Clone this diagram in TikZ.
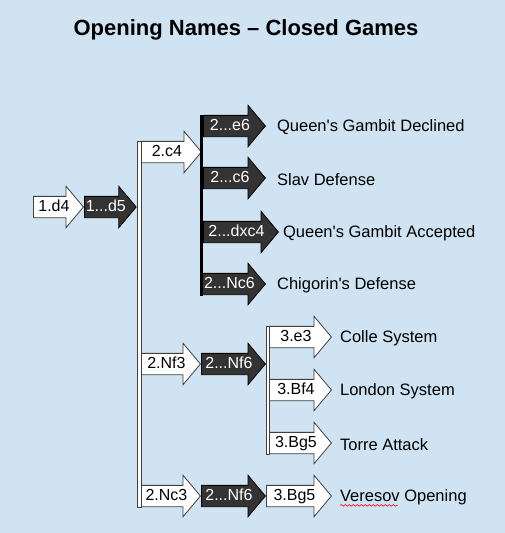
\documentclass[tikz,border=0pt]{standalone}
\usepackage{fontspec}
\setmainfont{Liberation Sans}
\usetikzlibrary{shapes.arrows,positioning}
\usetikzlibrary{decorations.pathmorphing}
\definecolor{background}{RGB}{207,227,242}
\colorlet{penColor}{black!75}
\colorlet{moveFill}{black!80}
\tikzset{
  wmove/.style={single arrow, draw=penColor, fill=white, text=black, line width=0.8pt,
    single arrow head extend=10pt, single arrow tip angle=100, minimum width=40pt,
    text height=11.5pt, text depth=3pt, inner ysep=3pt, inner xsep=1pt, anchor=tail,
    font=\fontsize{16}{17}\selectfont},
  bmove/.style={wmove, draw=black, fill=moveFill, text=white},
  opname/.style={anchor=west, inner sep=0pt, yshift=-1.5pt, font=\fontsize{16.5}{18}\selectfont},
  wbar/.style={draw=penColor, fill=white, line width=0.8pt},
  bbar/.style={draw=black, fill=black, line width=0.8pt}
}

\begin{document}
\begin{tikzpicture}[x=1pt,y=-1pt]
				\fill[background] (0,0) rectangle (505,533);
				\useasboundingbox (0,0) rectangle (505,533);
				\node [font=\bfseries\fontsize{22}{24}\selectfont] (title) at (246,30) {Opening Names -- Closed Games};
				% first moves
				\node [wmove, minimum height=50pt] (d4) at (33,207) {1.d4};
				\node [bmove, minimum height=50pt] (d5) at (84,207) {1...d5};
				% second moves for white
				\node [wmove, minimum height=60pt] (c4) at (141,152) {2.c4};
				\node [wmove, minimum height=59pt] (nf3) at (141,364) {2.Nf3};
				\node [wmove, minimum height=59pt] (nc3) at (141,496) {2.Nc3};
				\draw [wbar] (c4.after tail) rectangle ([xshift=-4pt]nc3.before tail);
				% replies to 2.c4
				\node [bmove, minimum height=62pt] (e6) at (203,126) {2...e6};
				\node [bmove, minimum height=62pt] (c6) at (203,178) {2...c6};
				\node [bmove, minimum height=75pt] (dxc4) at (203,232) {2...dxc4};
				\node [bmove, minimum height=63pt] (nc6) at (202,284) {2...Nc6};
				\draw [bbar] ([xshift=-3pt]e6.after tail) rectangle (nc6.before tail);
				\node [opname, right=11pt of e6.tip] (qgd) {Queen\textquotesingle s Gambit Declined};
				\node [opname, right=11pt of c6.tip] (slav) {Slav Defense};
				\node [opname, right=4pt of dxc4.tip] (qga) {Queen\textquotesingle s Gambit Accepted};
				\node [opname, right=11pt of nc6.tip] (chig) {Chigorin\textquotesingle s Defense};
				% 2.Nf3 Nf6
				\node [bmove, minimum height=64pt] (nf6a) at (201,364) {2...Nf6};
				\node [wmove, minimum height=62pt] (e3) at (269,337) {3.e3};
				\node [wmove, minimum height=62pt] (bf4) at (269,390) {3.Bf4};
				\node [wmove, minimum height=62pt] (bg5a) at (269,443) {3.Bg5};
				\draw [wbar] ([xshift=-3pt]e3.after tail) rectangle (bg5a.before tail);
				\node [opname, right=8pt of e3.tip] (colle) {Colle System};
				\node [opname, right=8pt of bf4.tip] (london) {London System};
				\node [opname, right=8pt of bg5a.tip] (torre) {Torre Attack};
				% 2.Nc3 Nf6
				\node [bmove, minimum height=64pt] (nf6b) at (201,496) {2...Nf6};
				\node [wmove, minimum height=65pt] (bg5b) at (266,496) {3.Bg5};
				\node [opname, right=8pt of bg5b.tip] (veresov) {Veresov Opening};
				\draw [red, line width=0.6pt, decorate, decoration={snake, amplitude=0.8pt, segment length=4pt}]
					(veresov.south west) -- ++(58,0);
\end{tikzpicture}
\end{document}
